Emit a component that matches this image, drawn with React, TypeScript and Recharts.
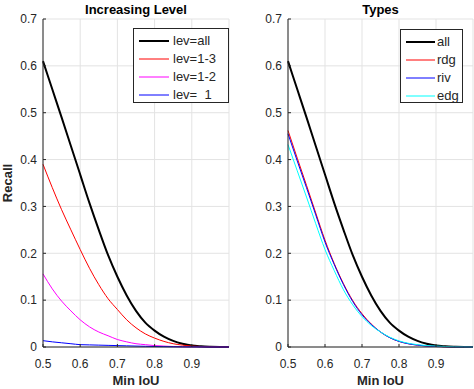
import { CartesianGrid, Legend, Line, LineChart, XAxis, YAxis } from 'recharts';

const FONT = '"Liberation Sans", Arial, Helvetica, sans-serif';
const INK = '#262626';

// IoU thresholds (x)
const iou = [0.5, 0.525, 0.55, 0.575, 0.6, 0.625, 0.65, 0.675, 0.7, 0.725, 0.75, 0.775, 0.8, 0.825, 0.85, 0.875, 0.9, 0.925, 0.95, 0.975, 1.0];

// left panel: increasing level
const levAll = [0.61, 0.55, 0.49, 0.429, 0.368, 0.307, 0.25, 0.196, 0.15, 0.11, 0.077, 0.052, 0.035, 0.022, 0.013, 0.007, 0.003, 0.0015, 0.0007, 0.0002, 0];
const lev13 = [0.39, 0.34, 0.293, 0.25, 0.208, 0.168, 0.133, 0.103, 0.08, 0.058, 0.041, 0.028, 0.019, 0.012, 0.007, 0.004, 0.002, 0.001, 0.0005, 0.0002, 0];
const lev12 = [0.156, 0.124, 0.098, 0.077, 0.058, 0.043, 0.032, 0.024, 0.016, 0.011, 0.007, 0.005, 0.003, 0.002, 0.001, 0.0005, 0.0002, 0.0001, 0, 0, 0];
const lev1 = [0.0135, 0.011, 0.009, 0.007, 0.005, 0.0045, 0.004, 0.0035, 0.003, 0.0025, 0.002, 0.0015, 0.001, 0.0008, 0.0005, 0.0003, 0.0002, 0.0001, 0, 0, 0];

// right panel: types
const typeAll = levAll;
const rdg = [0.462, 0.403, 0.345, 0.286, 0.228, 0.178, 0.135, 0.099, 0.071, 0.049, 0.032, 0.02, 0.012, 0.007, 0.004, 0.002, 0.001, 0.0005, 0.0002, 0.0001, 0];
const riv = [0.455, 0.397, 0.34, 0.282, 0.224, 0.176, 0.133, 0.097, 0.069, 0.048, 0.032, 0.02, 0.012, 0.007, 0.004, 0.002, 0.001, 0.0005, 0.0002, 0.0001, 0];
const edg = [0.432, 0.376, 0.32, 0.263, 0.208, 0.163, 0.122, 0.09, 0.065, 0.046, 0.032, 0.021, 0.013, 0.008, 0.005, 0.003, 0.002, 0.001, 0.0005, 0.0002, 0];

const xTicks = [0.5, 0.6, 0.7, 0.8, 0.9];
const yTicks = [0, 0.1, 0.2, 0.3, 0.4, 0.5, 0.6, 0.7];

type Series = { key: string; name: string; color: string; width: number; values: number[] };

const levelSeries: Series[] = [
  { key: 'all', name: 'lev=all', color: '#000000', width: 2, values: levAll },
  { key: 'l13', name: 'lev=1-3', color: '#ff0000', width: 1, values: lev13 },
  { key: 'l12', name: 'lev=1-2', color: '#ff00ff', width: 1, values: lev12 },
  { key: 'l1', name: 'lev=  1', color: '#0000ff', width: 1, values: lev1 },
];

const typeSeries: Series[] = [
  { key: 'all', name: 'all', color: '#000000', width: 2, values: typeAll },
  { key: 'rdg', name: 'rdg', color: '#ff0000', width: 1, values: rdg },
  { key: 'riv', name: 'riv', color: '#0000ff', width: 1, values: riv },
  { key: 'edg', name: 'edg', color: '#00ffff', width: 1, values: edg },
];

const fmtY = (v: number) => (v === 0 ? '0' : v.toFixed(1));

interface PanelProps {
  series: Series[];
  left: number;
  width: number;
  axisWidth: number;
  rightMargin: number;
  title: string;
  showYLabel?: boolean;
  legend: { left: number; top: number; width: number; height: number; lineLen: number; gap: number };
}

function Panel({ series, left, width, axisWidth, rightMargin, title, showYLabel, legend }: PanelProps) {
  const data = iou.map((x, i) => {
    const row: Record<string, number> = { x };
    series.forEach((s) => (row[s.key] = s.values[i]));
    return row;
  });
  const plotLeft = left + axisWidth;
  const plotRight = left + width - rightMargin;
  const cx = (plotLeft + plotRight) / 2;

  const renderLegend = () => (
    <div
      style={{
        boxSizing: 'border-box',
        width: legend.width,
        height: legend.height,
        border: `1px solid ${INK}`,
        background: '#fff',
        padding: '3px 0 0 5px',
      }}
    >
      {series.map((s) => (
        <div key={s.key} style={{ display: 'flex', alignItems: 'center', height: 18 }}>
          <svg width={legend.lineLen} height={18} style={{ display: 'block' }}>
            <line x1={0} x2={legend.lineLen} y1={9} y2={9} stroke={s.color} strokeWidth={s.width} />
          </svg>
          <span style={{ marginLeft: legend.gap, whiteSpace: 'pre', fontSize: 13, lineHeight: '18px', color: INK }}>
            {s.name}
          </span>
        </div>
      ))}
    </div>
  );

  return (
    <>
      <div style={{ position: 'absolute', left, top: 0 }}>
        <LineChart width={width} height={389} data={data} margin={{ top: 19, right: rightMargin, bottom: 12, left: 0 }}>
          <CartesianGrid stroke="#e3e3e3" />
          <XAxis
            dataKey="x"
            type="number"
            domain={[0.5, 1]}
            ticks={xTicks}
            interval={0}
            height={30}
            tickSize={-3}
            tickMargin={15}
            stroke={INK}
            tick={{ fill: INK, fontSize: 12 }}
          />
          <YAxis
            type="number"
            domain={[0, 0.7]}
            ticks={yTicks}
            interval={0}
            width={axisWidth}
            tickSize={-3}
            tickMargin={9}
            tickFormatter={fmtY}
            stroke={INK}
            tick={{ fill: INK, fontSize: 12 }}
          />
          <Legend
            layout="vertical"
            align="center"
            verticalAlign="middle"
            content={renderLegend}
            wrapperStyle={{ left: legend.left, top: legend.top, width: legend.width, height: legend.height }}
          />
          {series.map((s) => (
            <Line
              key={s.key}
              type="monotone"
              dataKey={s.key}
              name={s.name}
              stroke={s.color}
              strokeWidth={s.width}
              dot={false}
              activeDot={false}
              isAnimationActive={false}
            />
          ))}
        </LineChart>
      </div>
      <div
        style={{
          position: 'absolute',
          left: cx - 80,
          width: 160,
          top: 3,
          textAlign: 'center',
          fontSize: 13,
          lineHeight: '13px',
          fontWeight: 'bold',
          color: '#000',
        }}
      >
        {title}
      </div>
      <div
        style={{
          position: 'absolute',
          left: cx - 50,
          width: 100,
          top: 374,
          textAlign: 'center',
          fontSize: 13,
          lineHeight: '13px',
          fontWeight: 'bold',
          color: INK,
        }}
      >
        Min IoU
      </div>
      {showYLabel && (
        <div
          style={{
            position: 'absolute',
            left: 8 - 30,
            top: 183 - 7,
            width: 60,
            height: 14,
            lineHeight: '14px',
            textAlign: 'center',
            fontSize: 13,
            fontWeight: 'bold',
            color: INK,
            transform: 'rotate(-90deg)',
          }}
        >
          Recall
        </div>
      )}
    </>
  );
}

export default function App() {
  return (
    <div
      style={{
        position: 'absolute',
        left: 0,
        top: 0,
        width: 474,
        height: 389,
        background: '#fff',
        fontFamily: FONT,
        overflow: 'hidden',
      }}
    >
      <Panel
        series={levelSeries}
        left={0}
        width={237}
        axisWidth={43}
        rightMargin={8}
        title="Increasing Level"
        showYLabel
        legend={{ left: 133, top: 28, width: 96, height: 75, lineLen: 30, gap: 4 }}
      />
      <Panel
        series={typeSeries}
        left={240}
        width={234}
        axisWidth={48}
        rightMargin={1}
        title="Types"
        legend={{ left: 160, top: 29, width: 63, height: 74, lineLen: 29, gap: 2 }}
      />
    </div>
  );
}
